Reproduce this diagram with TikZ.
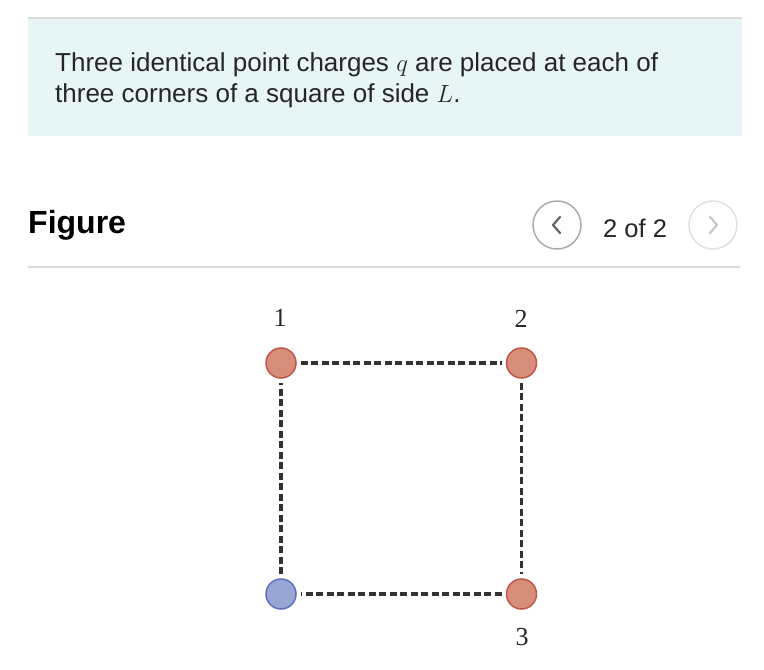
\documentclass[tikz,border=0pt]{standalone}
\usepackage{fontspec}
\setmainfont{Liberation Sans}
\newfontfamily\labelfont{Liberation Serif}
\begin{document}
\begin{tikzpicture}[x=1pt,y=-1pt,
  rulecol/.style={draw=black!14,line width=2pt},
  charge/.style={circle,minimum size=30pt,inner sep=0pt,line width=1.5pt},
  poscharge/.style={charge,fill=posfill,draw=posdraw},
  negcharge/.style={charge,fill=negfill,draw=negdraw},
  link/.style={black!80,line width=3.2pt,dash pattern=on 7pt off 3.5pt,shorten <=4pt,shorten >=4pt},
  clabel/.style={font=\labelfont\fontsize{26}{26}\selectfont,text=black!85,inner sep=0pt},
  bodytext/.style={font=\fontsize{26}{31}\selectfont,text=black!85,inner sep=0pt,anchor=base west},
  navbtn/.style={circle,minimum size=48pt,inner sep=0pt,line width=1.5pt},
  chevron/.style={line width=2.2pt,line cap=round,line join=round}
]
\definecolor{posfill}{RGB}{214,142,122}
\definecolor{posdraw}{RGB}{192,86,74}
\definecolor{negfill}{RGB}{152,166,212}
\definecolor{negdraw}{RGB}{92,112,188}
\definecolor{boxfill}{RGB}{232,245,246}
\useasboundingbox (0,0) rectangle (764,670);
\fill[white] (0,0) rectangle (764,670);
% question box
\fill[boxfill] (28,19) rectangle (742,136);
\draw[rulecol] (28,18) -- (742,18);
\node[bodytext] (l1) at (55,71) {Three identical point charges $q$ are placed at each of};
\node[bodytext] (l2) at (55,102) {three corners of a square of side $L$.};
% figure header
\node[font=\bfseries\fontsize{32}{32}\selectfont,anchor=base west,inner sep=0pt] (fig) at (28,233) {Figure};
\node[navbtn,draw=black!33] (prev) at (557,225) {};
\draw[chevron,black!60] ([xshift=3pt,yshift=-8pt]prev.center) -- ([xshift=-4pt]prev.center) -- ([xshift=3pt,yshift=8pt]prev.center);
\node[font=\fontsize{25.5}{25.5}\selectfont,text=black!85,anchor=base west,inner sep=0pt] (cnt) at (603,237) {2 of 2};
\node[navbtn,draw=black!12] (next) at (713,225) {};
\draw[chevron,black!22] ([xshift=-3pt,yshift=-8pt]next.center) -- ([xshift=4pt]next.center) -- ([xshift=-3pt,yshift=8pt]next.center);
\draw[rulecol] (28,267) -- (740,267);
% square of charges
\node[poscharge] (c1) at (281,363) {};
\node[poscharge] (c2) at (521.5,363) {};
\node[negcharge] (c4) at (281,594) {};
\node[poscharge] (c3) at (521.5,594) {};
\draw[link] (c1) -- (c2);
\draw[link] (c2) -- (c3);
\draw[link] (c3) -- (c4);
\draw[link] (c4) -- (c1);
\node[clabel] (n1) at (280,318) {1};
\node[clabel] (n2) at (521,319) {2};
\node[clabel] (n3) at (522,637) {3};
\end{tikzpicture}
\end{document}
